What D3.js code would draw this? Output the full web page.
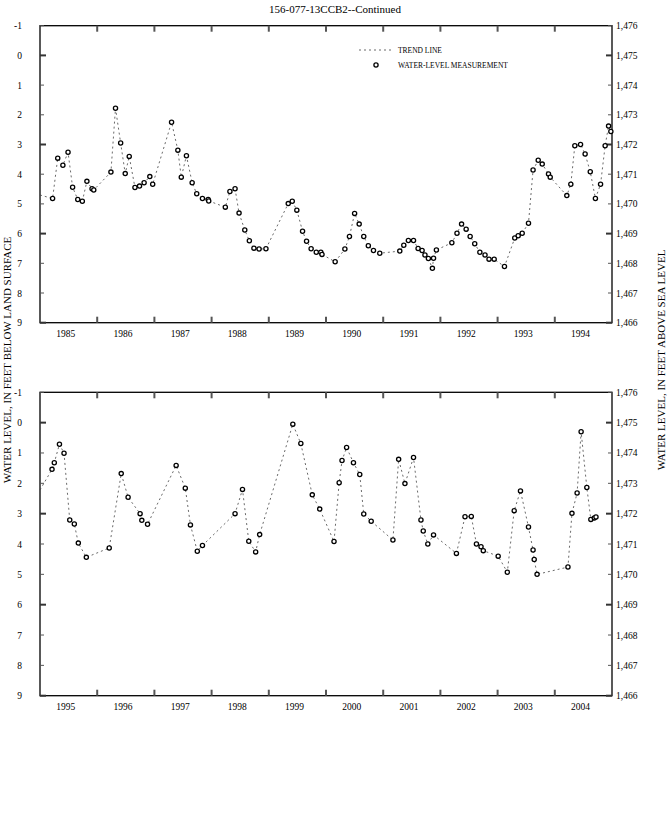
<!DOCTYPE html>
<html><head><meta charset="utf-8">
<script src="https://cdn.jsdelivr.net/npm/d3@7"></script>
<style>body{margin:0;background:#fff}svg{font-family:"Liberation Serif","DejaVu Serif",serif}</style>
</head><body><svg id="c" width="672" height="831"></svg>
<script>
const title = "156-077-13CCB2--Continued";
const leftTicks = [-1,0,1,2,3,4,5,6,7,8,9];
const rightTickLabels = ["1,476","1,475","1,474","1,473","1,472","1,471","1,470","1,469","1,468","1,467","1,466"];
const years1 = [1985,1986,1987,1988,1989,1990,1991,1992,1993,1994];
const years2 = [1995,1996,1997,1998,1999,2000,2001,2002,2003,2004];

const dates1 = [1985.22,1985.31,1985.40,1985.49,1985.57,1985.66,1985.74,1985.82,1985.91,1985.94,
1986.24,1986.32,1986.41,1986.49,1986.56,1986.66,1986.74,1986.82,1986.92,1986.97,
1987.30,1987.41,1987.47,1987.56,1987.66,1987.74,1987.84,1987.94,1987.95,
1988.24,1988.32,1988.41,1988.48,1988.58,1988.66,1988.74,1988.83,1988.95,
1989.34,1989.41,1989.49,1989.59,1989.66,1989.74,1989.83,1989.91,1989.93,
1990.16,1990.33,1990.41,1990.50,1990.58,1990.66,1990.74,1990.83,1990.94,
1991.29,1991.36,1991.44,1991.53,1991.61,1991.68,1991.73,1991.79,1991.86,1991.88,1991.93,
1992.20,1992.29,1992.37,1992.45,1992.52,1992.60,1992.69,1992.78,1992.85,1992.94,
1993.12,1993.30,1993.36,1993.43,1993.54,1993.62,1993.71,1993.78,1993.89,1993.92,
1994.21,1994.28,1994.35,1994.45,1994.53,1994.62,1994.71,1994.80,1994.88,1994.94,1994.98];
const depths1 = [4.82,3.46,3.70,3.26,4.44,4.85,4.91,4.24,4.49,4.53,
3.93,1.78,2.95,3.98,3.40,4.45,4.40,4.29,4.08,4.34,
2.25,3.19,4.10,3.38,4.29,4.66,4.82,4.85,4.90,
5.11,4.58,4.49,5.31,5.88,6.24,6.49,6.52,6.51,
4.99,4.91,5.21,5.92,6.26,6.51,6.63,6.63,6.70,
6.95,6.52,6.10,5.32,5.68,6.10,6.41,6.57,6.66,
6.59,6.39,6.23,6.23,6.50,6.57,6.72,6.84,7.17,6.83,6.55,
6.31,5.99,5.68,5.85,6.10,6.34,6.63,6.72,6.86,6.86,
7.11,6.15,6.07,5.99,5.65,3.86,3.53,3.66,3.99,4.10,
4.72,4.34,3.04,3.00,3.32,3.92,4.82,4.34,3.04,2.38,2.56];
const trendStart1 = [1985.0, 4.70];

const dates2 = [1995.21,1995.25,1995.34,1995.42,1995.52,1995.60,1995.67,1995.81,
1996.21,1996.42,1996.54,1996.75,1996.78,1996.88,
1997.38,1997.54,1997.63,1997.75,1997.84,
1998.41,1998.54,1998.65,1998.77,1998.84,
1999.42,1999.56,1999.76,1999.89,
2000.14,2000.23,2000.28,2000.36,2000.48,2000.59,2000.66,2000.79,
2001.17,2001.27,2001.38,2001.53,2001.66,2001.70,2001.78,2001.88,
2002.28,2002.43,2002.54,2002.63,2002.71,2002.75,
2003.01,2003.17,2003.29,2003.40,2003.54,2003.62,2003.64,2003.69,
2004.23,2004.30,2004.39,2004.46,2004.56,2004.63,2004.69,2004.72];
const depths2 = [1.54,1.32,0.71,1.01,3.21,3.34,3.97,4.44,
4.13,1.68,2.46,3.00,3.22,3.35,
1.41,2.16,3.37,4.24,4.05,
3.00,2.20,3.91,4.26,3.69,
0.05,0.69,2.38,2.85,
3.92,1.98,1.25,0.82,1.32,1.71,3.01,3.25,
3.87,1.21,2.01,1.15,3.21,3.57,4.00,3.70,
4.31,3.10,3.09,4.00,4.09,4.22,
4.40,4.93,2.90,2.25,3.44,4.20,4.51,5.00,
4.76,2.99,2.32,0.30,2.14,3.19,3.14,3.11];
const trendStart2 = [1995.0, 2.22];

const svg = d3.select("#c");
svg.append("text").attr("x",335).attr("y",13).attr("text-anchor","middle").attr("font-size",11).text(title);

function panel(top, bottom, y0, dates, depths, trendStart, years, legend){
  const L=40, R=612;
  const x = d3.scaleLinear().domain([y0, y0+10]).range([L,R]);
  const y = d3.scaleLinear().domain([-1,9]).range([top,bottom]);
  const g = svg.append("g");
  g.append("rect").attr("x",L).attr("y",top).attr("width",R-L).attr("height",bottom-top)
    .attr("fill","none").attr("stroke","#000").attr("stroke-width",1.3);
  const yb = years.map(d=>d+1).slice(0,9);
  yb.forEach(v=>{
    g.append("line").attr("x1",x(v)).attr("x2",x(v)).attr("y1",top).attr("y2",top+6).attr("stroke","#555").attr("stroke-width",2);
    g.append("line").attr("x1",x(v)).attr("x2",x(v)).attr("y1",bottom).attr("y2",bottom-6).attr("stroke","#555").attr("stroke-width",2);
  });
  years.forEach(v=>g.append("text").attr("x",x(v+0.45)).attr("y",bottom+14).attr("text-anchor","middle").attr("font-size",9.5).text(v));
  leftTicks.forEach((v,i)=>{
    const maj = (v%3===0);
    g.append("line").attr("x1",L).attr("x2",L+(maj?6:4)).attr("y1",y(v)).attr("y2",y(v)).attr("stroke",maj?"#333":"#555").attr("stroke-width",maj?2:1);
    g.append("line").attr("x1",R).attr("x2",R-(maj?6:4)).attr("y1",y(v)).attr("y2",y(v)).attr("stroke",maj?"#333":"#555").attr("stroke-width",maj?2:1);
    g.append("text").attr("x",L-18).attr("y",y(v)+3.5).attr("text-anchor","end").attr("font-size",9.5).text(v);
    g.append("text").attr("x",R+4).attr("y",y(v)+3.5).attr("font-size",9.5).text(rightTickLabels[i]);
  });
  const pts = dates.map((d,i)=>[d,depths[i]]);
  const line = d3.line().x(d=>x(d[0])).y(d=>y(d[1]));
  g.append("path").attr("d",line([trendStart].concat(pts))).attr("fill","none").attr("stroke","#444")
    .attr("stroke-width",0.8).attr("stroke-dasharray","2,3");
  g.selectAll("circle.m").data(pts).enter().append("circle").attr("class","m")
    .attr("cx",d=>x(d[0])).attr("cy",d=>y(d[1])).attr("r",2.1)
    .attr("fill","#fff").attr("stroke","#000").attr("stroke-width",1.3);
  if(legend){
    g.append("line").attr("x1",359).attr("x2",391).attr("y1",50).attr("y2",50).attr("stroke","#444").attr("stroke-width",0.8).attr("stroke-dasharray","2,3");
    g.append("text").attr("x",398).attr("y",53).attr("font-size",7.5).text("TREND LINE");
    g.append("circle").attr("cx",376).attr("cy",65).attr("r",2.1).attr("fill","#fff").attr("stroke","#000").attr("stroke-width",1.3);
    g.append("text").attr("x",398).attr("y",68).attr("font-size",7.5).text("WATER-LEVEL MEASUREMENT");
  }
}
panel(25.7, 322.7, 1985, dates1, depths1, trendStart1, years1, true);
panel(392.3, 695.7, 1995, dates2, depths2, trendStart2, years2, false);

svg.append("text").attr("transform","translate(11,360) rotate(-90)").attr("text-anchor","middle").attr("font-size",11).text("WATER LEVEL, IN FEET BELOW LAND SURFACE");
svg.append("text").attr("transform","translate(665,360) rotate(-90)").attr("text-anchor","middle").attr("font-size",11).text("WATER LEVEL, IN FEET ABOVE SEA LEVEL");
</script></body></html>
